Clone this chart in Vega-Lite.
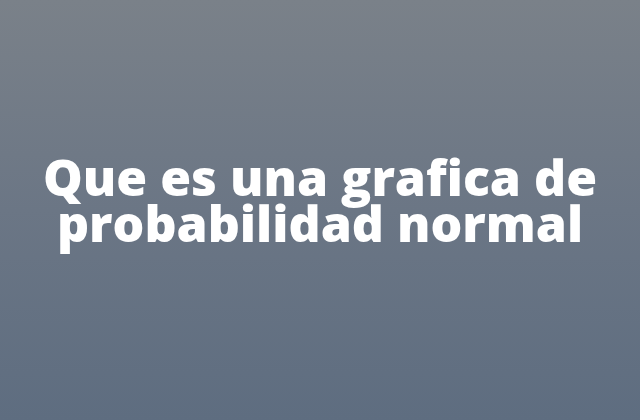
{
  "$schema": "https://vega.github.io/schema/vega-lite/v6.json",
  "width": 640,
  "height": 420,
  "autosize": {"type": "fit", "contains": "padding"},
  "padding": 0,
  "background": "#6c7785",
  "config": {
    "view": {
      "stroke": null,
      "fill": {
        "gradient": "linear",
        "x1": 0, "y1": 0, "x2": 0, "y2": 1,
        "stops": [
          {"offset": 0, "color": "#7a8189"},
          {"offset": 0.5, "color": "#6b7685"},
          {"offset": 1, "color": "#5e6d80"}
        ]
      }
    }
  },
  "data": {
    "values": [
      {"line": 1, "label": "Que es una grafica de"},
      {"line": 2, "label": "probabilidad normal"}
    ]
  },
  "mark": {
    "type": "text",
    "font": "Open Sans",
    "fontWeight": 800,
    "fontSize": 50,
    "color": "#ffffff",
    "align": "center",
    "baseline": "alphabetic"
  },
  "encoding": {
    "y": {
      "field": "line",
      "type": "quantitative",
      "scale": {"domain": [-3.2609, 5.8696], "reverse": true, "nice": false, "zero": false},
      "axis": null
    },
    "text": {"field": "label"}
  }
}
